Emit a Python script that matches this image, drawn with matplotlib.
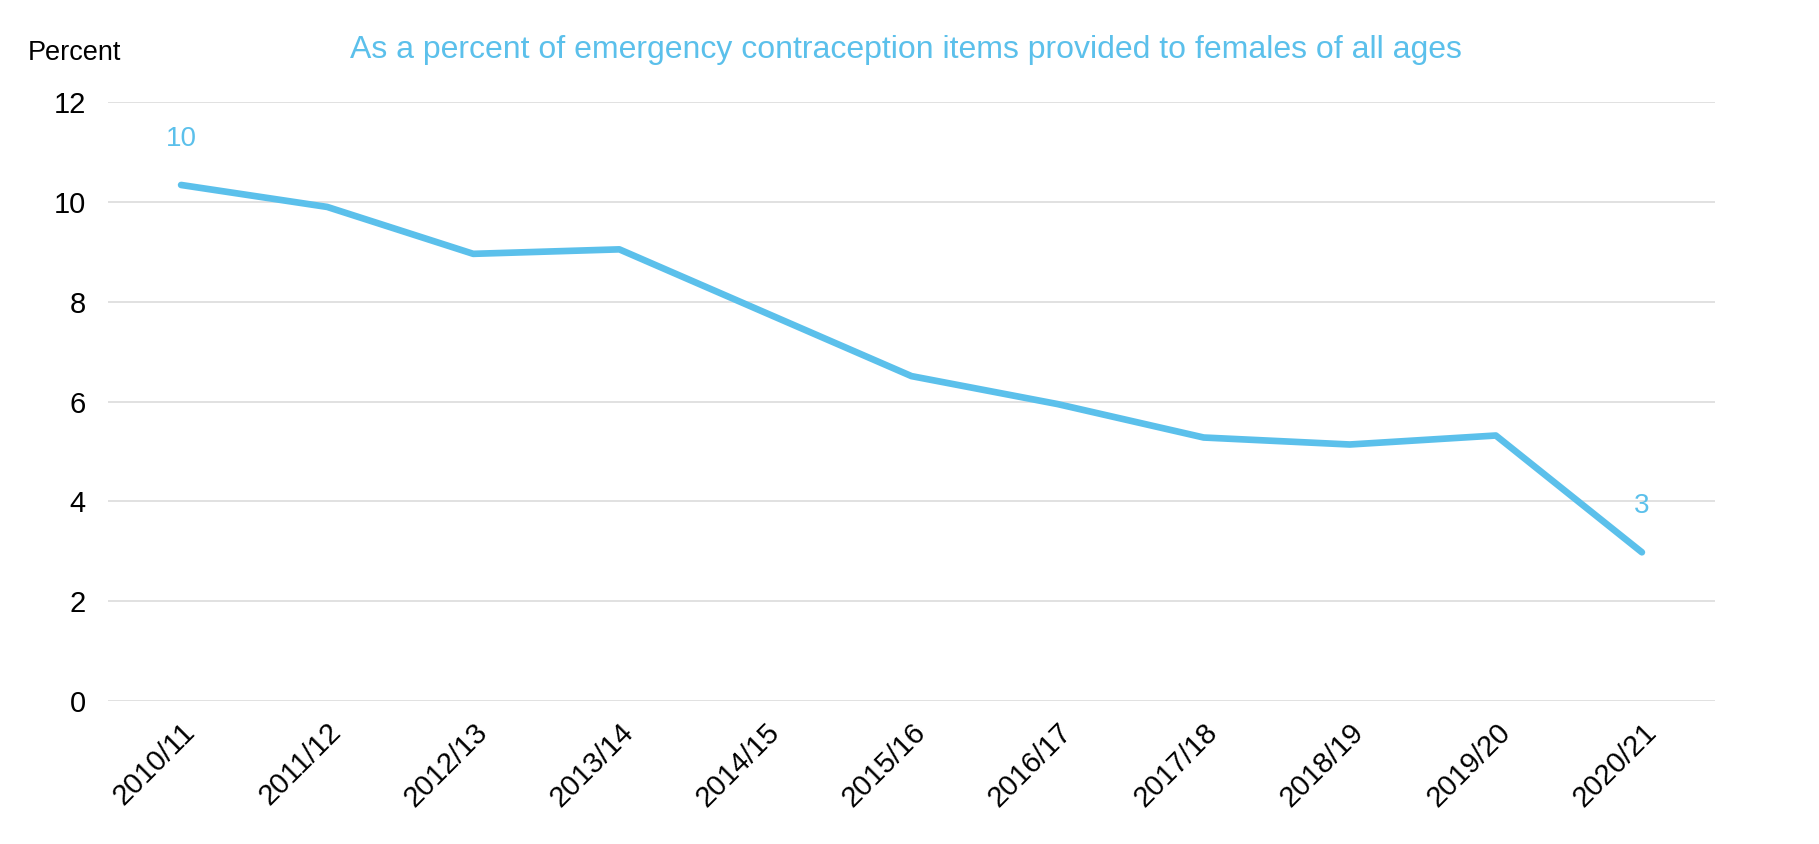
#!/usr/bin/env python3
"""Emergency contraception items to under-16s, as percent of all females"""
import matplotlib
matplotlib.use('Agg')
import matplotlib.pyplot as plt

# ── Data ─────────────────────────────────────────────────────────────────────
YEARS = ['2010/11', '2011/12', '2012/13', '2013/14', '2014/15', '2015/16',
         '2016/17', '2017/18', '2018/19', '2019/20', '2020/21']
PCT = [10.34, 9.90, 8.96, 9.05, 7.78, 6.51, 5.95, 5.28, 5.14, 5.32, 2.98]
LABELLED = [0, 10]   # indices that carry a data label
Y_TICKS = [0, 2, 4, 6, 8, 10, 12]

TITLE = 'As a percent of emergency contraception items provided to females of all ages'
BLUE = '#5BC0EB'

# ── Chart ────────────────────────────────────────────────────────────────────
plt.rcParams.update({
    'font.family': ['Liberation Sans', 'DejaVu Sans'],
    'axes.spines.right': False, 'axes.spines.top': False,
    'axes.spines.left': False, 'axes.spines.bottom': False,
})

fig = plt.figure(figsize=(18.19, 8.44), dpi=100)
ax = fig.add_axes([0.0594, 0.1694, 0.8834, 0.7096])

x = list(range(len(YEARS)))
ax.plot(x, PCT, color=BLUE, lw=4.8, solid_joinstyle='round', solid_capstyle='round')

for i in LABELLED:
    ax.annotate(f'{PCT[i]:.0f}', (x[i], PCT[i]), xytext=(0, 24), textcoords='offset points',
                ha='center', va='bottom', color=BLUE, fontsize=20)

ax.set_xlim(-0.5, len(YEARS) - 0.5)
ax.set_ylim(0, 12)
ax.set_yticks(Y_TICKS)
ax.set_xticks(x)
ax.set_xticklabels(YEARS, rotation=45, ha='right', va='top', rotation_mode='anchor')
ax.tick_params(axis='both', length=0, labelsize=21)
ax.tick_params(axis='y', pad=16)
ax.tick_params(axis='x', pad=12)
ax.grid(axis='y', color='#D9D9D9', lw=1.1)
ax.set_axisbelow(True)

fig.text(0.0154, 0.937, 'Percent', fontsize=19.5, ha='left', va='center')
fig.text(0.498, 0.941, TITLE, fontsize=23, ha='center', va='center', color=BLUE)

fig.patch.set_facecolor('white')
fig.savefig('out.png', dpi=100)
plt.close(fig)
